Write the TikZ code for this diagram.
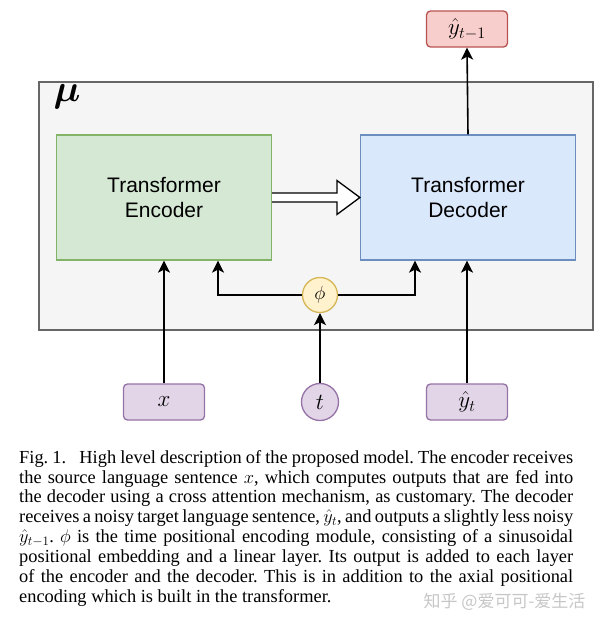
\documentclass[tikz,border=0pt]{standalone}
\usepackage{fix-cm}
\usepackage{amsmath,bm}
\usepackage{fontspec}
\setmainfont{Liberation Serif}
\newfontfamily\diagsans{Liberation Sans}
\newfontfamily\cjkfont{Noto Sans CJK SC}
\usetikzlibrary{arrows.meta,calc}
\definecolor{outerfill}{HTML}{F5F5F5}
\definecolor{outerdraw}{HTML}{666666}
\definecolor{encfill}{HTML}{D5E8D4}
\definecolor{encdraw}{HTML}{82B366}
\definecolor{decfill}{HTML}{DAE8FC}
\definecolor{decdraw}{HTML}{6C8EBF}
\definecolor{outfill}{HTML}{F8CECC}
\definecolor{outdraw}{HTML}{B85450}
\definecolor{infill}{HTML}{E1D5E7}
\definecolor{indraw}{HTML}{9673A6}
\definecolor{phifill}{HTML}{FFF2CC}
\definecolor{phidraw}{HTML}{D6B656}
\begin{document}
\begin{tikzpicture}[x=1pt,y=-1pt,
  outerbox/.style={draw=outerdraw, fill=outerfill, line width=1.8pt, minimum width=554pt, minimum height=248pt, inner sep=0},
  block/.style={draw, line width=1.2pt, minimum width=215pt, minimum height=125pt, align=center, inner sep=0,
    font=\diagsans\fontsize{21}{24.5}\selectfont},
  iobox/.style={rounded corners=4pt, draw, line width=1.3pt, minimum width=81pt, minimum height=36pt, inner sep=0,
    font=\fontsize{23}{27}\selectfont},
  circnode/.style={circle, draw, line width=1.3pt, inner sep=0, font=\fontsize{23}{27}\selectfont},
  arr/.style={line width=1.6pt, -{Stealth[length=12pt,width=12pt,inset=3pt]}},
]
\useasboundingbox[fill=white] (0,0) rectangle (600,627);

\node[outerbox] (muBox) at (316,206) {};
\node[anchor=center, font=\fontsize{38}{42}\selectfont] (mulabel) at (67,97) {$\bm{\mu}$};

\node[block, fill=encfill, draw=encdraw] (enc) at (164,197.5) {Transformer\\Encoder};
\node[block, fill=decfill, draw=decdraw] (dec) at (468,197.5) {Transformer\\Decoder};

\node[iobox, fill=outfill, draw=outdraw] (out) at (467,29) {$\hat{y}_{t-1}$};
\node[iobox, fill=infill, draw=indraw] (xin) at (164,402) {$x$};
\node[circnode, fill=infill, draw=indraw, minimum size=37pt] (tin) at (320,402) {$t$};
\node[iobox, fill=infill, draw=indraw] (yin) at (467,402) {$\hat{y}_t$};
\node[circnode, fill=phifill, draw=phidraw, minimum size=35pt, font=\fontsize{19}{23}\selectfont] (phi) at (320,295) {$\phi$};

% cross attention block arrow
\draw[line width=1.3pt, fill=white, line join=miter]
  ($(enc.east)+(0,-4.5)$) -- ($(dec.west)+(-23,-4.5)$) -- ($(dec.west)+(-23,-17)$) -- (dec.west)
  -- ($(dec.west)+(-23,17)$) -- ($(dec.west)+(-23,4.5)$) -- ($(enc.east)+(0,4.5)$);

\draw[arr] (xin) -- (enc.south);
\draw[arr] (yin) -- (yin |- dec.south);
\draw[arr] (tin) -- (phi);
\draw[arr] (phi.west) -| ($(enc.south)+(54,0)$);
\draw[arr] (phi.east) -| ($(dec.south)+(-53,0)$);
\draw[arr] (dec.north) -- (out.south);

\node[anchor=north west, text width=554pt, align=justify, inner sep=0,
  font=\fontsize{18.4}{19.9}\selectfont\frenchspacing] (caption) at (19,450) {%
Fig. 1.\hspace{0.5em} High level description of the proposed model. The encoder receives\linebreak
the source language sentence $x$, which computes outputs that are fed into\linebreak
the decoder using a cross attention mechanism, as customary. The decoder\linebreak
receives a noisy target language sentence, $\hat{y}_t$, and outputs a slightly less noisy\linebreak
$\hat{y}_{t-1}$. $\phi$ is the time positional encoding module, consisting of a sinusoidal\linebreak
positional embedding and a linear layer. Its output is added to each layer\linebreak
of the encoder and the decoder. This is in addition to the axial positional\linebreak
encoding which is built in the transformer.};

\node[anchor=east, text=black!22, font=\cjkfont\fontsize{17}{20}\selectfont] (watermark) at (589,602) {知乎 @爱可可-爱生活};
\end{tikzpicture}
\end{document}
